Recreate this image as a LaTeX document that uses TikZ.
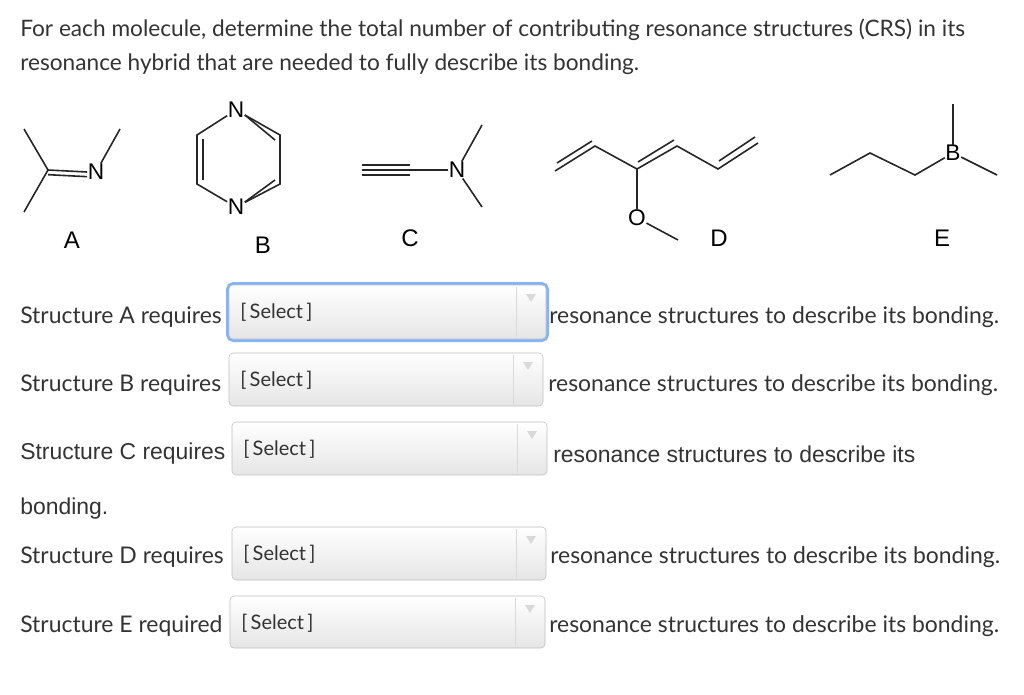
\documentclass[tikz,border=0pt]{standalone}
\usepackage{fontspec}
\setmainfont{Lato}
\newfontfamily\arial{Liberation Sans}
\begin{document}
\begin{tikzpicture}[x=0.75pt,y=-0.75pt,
  bond/.style={line width=1.2pt,black!85},
  lab/.style={font=\arial\fontsize{17}{18}\selectfont,inner sep=0.3pt,fill=white},
  mlab/.style={font=\arial\fontsize{18}{19}\selectfont},
  txt/.style={anchor=west,inner sep=0pt,font=\fontsize{17.2}{20}\selectfont,text=black!80},
  atxt/.style={anchor=west,inner sep=0pt,font=\arial\fontsize{17.2}{20}\selectfont,text=black!80},
  box/.style={draw=black!25,rounded corners=3pt,top color=white,bottom color=black!10},
  sel/.style={anchor=west,inner sep=0pt,font=\fontsize{15}{17}\selectfont,text=black!80}]
\useasboundingbox (0,0) rectangle (1024,694);
\node[anchor=west,inner sep=0pt,align=left,font=\fontsize{17}{25.5}\selectfont,text=black!80] (title) at (20,47)
 {For each molecule, determine the total number of contributing resonance structures (CRS) in its\\resonance hybrid that are needed to fully describe its bonding.};
% A
\node[lab] (aN) at (96,172) {N};
\coordinate (a1) at (24,129); \coordinate (a2) at (48,170); \coordinate (a3) at (24,212); \coordinate (a4) at (120,129);
\draw[bond] (a1)--(a2)--(a3); \draw[bond] (a2)--(aN.west); \draw[bond] ([yshift=-3.5]a2)--([yshift=-3.5]aN.west);
\draw[bond] (aN)--(a4);
\node[mlab] (lA) at (72,240) {A};
% B
\node[lab] (bN1) at (236,110) {N}; \node[lab] (bN2) at (236,207) {N};
\coordinate (b1) at (197,135); \coordinate (b2) at (197,184); \coordinate (b3) at (280,135); \coordinate (b4) at (280,184);
\draw[bond] (bN1)--(b1)--(b2)--(bN2)--(b4)--(b3)--(bN1);
\draw[bond] (203,139)--(203,180);
\draw[bond] ([shift={(0,5)}]bN1.east)--(275,140);
\draw[bond] ([shift={(0,-5)}]bN2.east)--(275,180);
\node[mlab] (lB) at (263,245) {B};
% C
\node[lab] (cN) at (457,170) {N};
\coordinate (c1) at (362,170); \coordinate (c2) at (410,170);
\draw[bond] (c1)--(c2)--(cN); \draw[bond] (362,165)--(410,165); \draw[bond] (362,175)--(410,175);
\draw[bond] (cN)--(482,125); \draw[bond] (cN)--(482,207);
\node[mlab] (lC) at (410,238) {C};
% D
\node[lab] (dO) at (637,218) {O};
\coordinate (d1) at (555,171); \coordinate (d2) at (595,146); \coordinate (d3) at (637,169);
\coordinate (d4) at (677,146); \coordinate (d5) at (718,169); \coordinate (d6) at (758,143);
\draw[bond] (d1)--(d2)--(d3)--(d4)--(d5)--(d6);
\draw[bond] (557,163)--(592,141); \draw[bond] (638,162)--(674,140); \draw[bond] (719,161)--(755,137);
\draw[bond] (d3)--(dO); \draw[bond] (dO)--(678,240);
\node[mlab] (lD) at (719,238) {D};
% E
\node[lab] (eB) at (953,153) {B};
\draw[bond] (830,175)--(870,153)--(915,175)--(eB); \draw[bond] (eB)--(953,104); \draw[bond] (eB)--(997,175);
\node[mlab] (lE) at (942,238) {E};
% rows
\node[txt] (r1) at (20,317) {Structure A requires};
\node[txt] (r2) at (20,385) {Structure B requires};
\node[atxt] (r3) at (20,454) {Structure C requires};
\node[atxt] (r3b) at (20,509) {bonding.};
\node[txt] (r4) at (20,557) {Structure D requires};
\node[txt] (r5) at (20,626) {Structure E required};
\draw[line width=3pt,draw={rgb,255:red,130;green,180;blue,250},rounded corners=4pt] (228,284) rectangle (547,340);
\foreach \n/\xa/\xb/\ya/\yb in {1/229/546/285/339, 2/229/543/353/406, 3/232/547/422/475, 4/232/546/527/580, 5/230/545/596/648}{
  \draw[box] (\xa,\ya) rectangle (\xb,\yb);
  \draw[black!15] (\xb-30,\ya+2)--(\xb-30,\yb-2);
  \fill[black!15] (\xb-20,\ya+9)--(\xb-10,\ya+9)--(\xb-15,\ya+17)--cycle;
  \node[sel] (s\n) at (\xa+11,\ya+27) {[\,Select\,]};
}
\node[txt] (t1) at (549,317) {resonance structures to describe its bonding.};
\node[txt] (t2) at (548,385) {resonance structures to describe its bonding.};
\node[atxt] (t3) at (553,454) {resonance structures to describe its};
\node[txt] (t4) at (550,557) {resonance structures to describe its bonding.};
\node[txt] (t5) at (549,626) {resonance structures to describe its bonding.};
\end{tikzpicture}
\end{document}
